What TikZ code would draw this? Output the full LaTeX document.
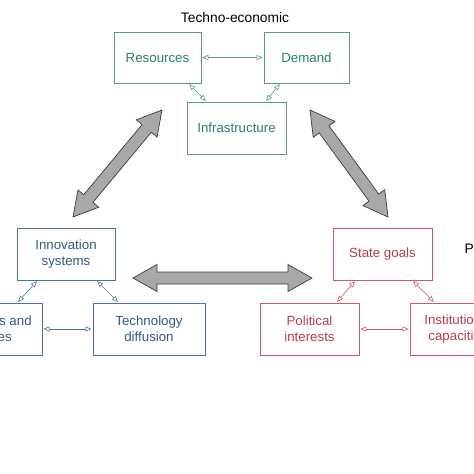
\documentclass[tikz,border=0pt]{standalone}
\usepackage{fontspec}
\setmainfont{Liberation Sans}
\usetikzlibrary{calc,arrows.meta}
\definecolor{teal1}{RGB}{40,125,118}
\definecolor{teal2}{RGB}{85,150,146}
\definecolor{blue1}{RGB}{45,90,135}
\definecolor{blue2}{RGB}{75,115,155}
\definecolor{red1}{RGB}{185,60,78}
\definecolor{red2}{RGB}{200,90,102}
\definecolor{arrfill}{RGB}{168,168,168}
\definecolor{arrline}{RGB}{60,60,60}
\tikzset{
  box/.style={draw, line width=0.8pt, minimum height=51pt, align=center, inner sep=2pt,
    font=\fontsize{13.3}{16}\selectfont},
  tebox/.style={box, draw=teal2, text=teal1},
  stbox/.style={box, draw=blue2, text=blue1},
  pobox/.style={box, draw=red2, text=red1},
  small/.style={line width=0.6pt, {Triangle[open,length=6pt,width=5pt]}-{Triangle[open,length=6pt,width=5pt]}, shorten <=1pt, shorten >=1pt},
  bigarrow/.style={draw=arrline, fill=arrfill, line width=0.7pt, line join=miter},
  title/.style={font=\fontsize{13.8}{16}\selectfont, text=black}
}
\newcommand\blockarrow[2]{%
  \coordinate (ba1) at ($(#1)!24pt!(#2)$);
  \coordinate (ba2) at ($(#2)!24pt!(#1)$);
  \path[bigarrow] (#1) -- ($(ba1)!13.5pt!90:(#2)$) -- ($(ba1)!6pt!90:(#2)$)
    -- ($(ba2)!6pt!90:(#2)$) -- ($(ba2)!13.5pt!90:(#2)$) -- (#2)
    -- ($(ba2)!13.5pt!-90:(#2)$) -- ($(ba2)!6pt!-90:(#2)$)
    -- ($(ba1)!6pt!-90:(#2)$) -- ($(ba1)!13.5pt!-90:(#2)$) -- cycle;
}
\begin{document}
\begin{tikzpicture}[x=1pt,y=-1pt]
\useasboundingbox (0,0) rectangle (474,474);
\clip (0,0) rectangle (474,474);
% Techno-economic
\node[title] (te) at (235,18) {Techno-economic};
\node[tebox, minimum width=87pt] (res) at (157.5,57.5) {Resources};
\node[tebox, minimum width=85pt] (dem) at (306.5,57.5) {Demand};
\node[tebox, minimum width=99pt, minimum height=52pt] (inf) at (236.5,128) {Infrastructure};
\draw[small, teal2] (res.east) -- (dem.west);
\draw[small, teal2] ([xshift=-13pt]res.south east) -- ([xshift=20pt]inf.north west);
\draw[small, teal2] ([xshift=17pt]dem.south west) -- ([xshift=-21pt]inf.north east);
% Socio-technical
\node[stbox, minimum width=98pt, minimum height=52pt] (inn) at (66,254) {Innovation\\systems};
\node[stbox, minimum width=99pt, minimum height=52pt] (reg) at (-7.5,329) {Regimes and\\niches};
\node[stbox, minimum width=112pt, minimum height=52pt] (tec) at (149,329) {Technology\\diffusion};
\draw[small, blue2] ([xshift=21pt]inn.south west) -- ([xshift=-25pt]reg.north east);
\draw[small, blue2] ([xshift=-19pt]inn.south east) -- ([xshift=26pt]tec.north west);
\draw[small, blue2] (reg.east) -- (tec.west);
% Political
\node[title, anchor=west] (po) at (461,249) {Political};
\node[pobox, minimum width=99pt, minimum height=52pt] (sta) at (382.5,254) {State goals};
\node[pobox, minimum width=99pt, minimum height=52pt] (pol) at (309.5,329) {Political\\interests};
\node[pobox, minimum width=96pt, minimum height=52pt] (ins) at (458,329) {Institutional\\capacities};
\draw[small, red2] ([xshift=23pt]sta.south west) -- ([xshift=-23pt]pol.north east);
\draw[small, red2] ([xshift=-20pt]sta.south east) -- ([xshift=25pt]ins.north west);
\draw[small, red2] (pol.east) -- (ins.west);
% big arrows
\coordinate (a1) at (73,217);
\coordinate (b1) at (162,110);
\coordinate (a2) at (388,217);
\coordinate (b2) at (310,110);
\coordinate (h1) at (133,278);
\coordinate (h2) at (312,278);
\blockarrow{a1}{b1}
\blockarrow{a2}{b2}
\blockarrow{h1}{h2}
\end{tikzpicture}
\end{document}
